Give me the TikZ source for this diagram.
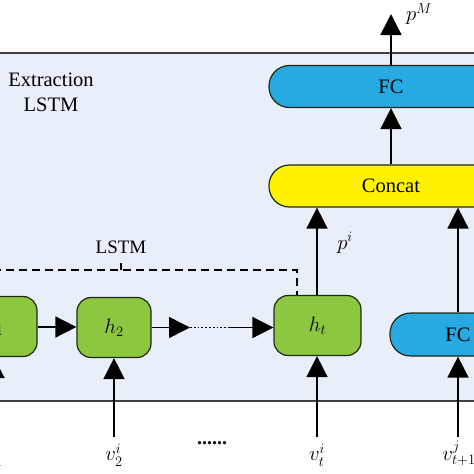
\documentclass[tikz,border=0pt]{standalone}
\usepackage{fontspec}
\setmainfont{Liberation Serif}
\usetikzlibrary{arrows.meta}
\definecolor{panelbg}{HTML}{E9EFF8}
\definecolor{hgreen}{HTML}{8DC63F}
\definecolor{fcblue}{HTML}{27AAE1}
\definecolor{cyellow}{HTML}{FFF200}
\definecolor{edge}{HTML}{1E2A14}
\begin{document}
\begin{tikzpicture}[x=1pt,y=-1pt,
  font=\fontsize{20.5}{24}\selectfont,
  mathlbl/.style={font=\fontsize{22}{26}\selectfont},
  hbox/.style={draw=edge, line width=1.2pt, fill=hgreen, rounded corners=14pt, inner sep=0pt, minimum height=60pt, mathlbl},
  pill/.style={draw=edge, line width=1.2pt, rounded corners=20.5pt, inner sep=0pt, minimum height=42pt},
  conn/.style={line width=1.6pt, -{Triangle[length=21pt,width=21pt]}},
  lbl/.style={inner sep=0pt}]
\useasboundingbox (0,0) rectangle (474,474);
% panel
\fill[panelbg] (-20,53) rectangle (494,401);
\draw[line width=1.2pt, black!75] (-20,53) -- (494,53);
\draw[line width=1.2pt, black!75] (-20,401) -- (494,401);
\node[lbl, align=center, font=\fontsize{20.5}{25}\selectfont] (title) at (51,92) {Extraction\\LSTM};
% boxes
\node[hbox, minimum width=86pt] (h1) at (-6,326.5) {$h_1$};
\node[hbox, minimum width=74pt] (h2) at (114,327.5) {$h_2$};
\node[hbox, minimum width=87pt] (ht) at (317.5,325.5) {$h_t$};
\node[pill, fill=fcblue, minimum width=244pt] (fctop) at (391,86.5) {FC};
\node[pill, fill=cyellow, minimum width=244pt] (concat) at (391,186) {Concat};
\node[pill, fill=fcblue, minimum width=136pt, minimum height=43pt] (fcr) at (458,334.5) {FC};
% recurrent chain
\coordinate (d1) at (190,327.5);
\coordinate (d2) at (230,327.5);
\draw[conn] (h1.east |- 0,327) -- (h2.west |- 0,327);
\draw[conn] (h2.east) -- (d1);
\draw[line width=1.8pt, dotted] (d1) -- (d2);
\draw[conn] (d2) -- (ht.west |- d2);
% dashed LSTM bracket
\coordinate (dl) at (-20,270);
\coordinate (dr) at (297,270);
\draw[line width=1.2pt, dash pattern=on 8pt off 5pt] (dl) -- (dr) -- (dr |- ht.north);
\coordinate (tk) at (121,270);
\draw[line width=1.2pt] (tk) -- ++(0,-7);
\node[lbl, font=\fontsize{19}{22}\selectfont] (lstm) at (121,247) {LSTM};
% inputs
\node[lbl, mathlbl] (v1) at (-6,455) {$v_1^i$};
\node[lbl, mathlbl] (v2) at (114,455) {$v_2^i$};
\node[lbl, mathlbl] (vt) at (317,455) {$v_t^i$};
\node[lbl, mathlbl] (vj) at (459,453) {$v_{t+1}^j$};
\node[lbl, font=\bfseries\fontsize{20}{24}\selectfont] (dots) at (212,443) {......};
\coordinate (a1) at (-6,437);
\coordinate (a2) at (114,437);
\coordinate (at) at (317,437);
\coordinate (aj) at (458,437);
\draw[conn] (a1) -- (a1 |- h1.south);
\draw[conn] (a2) -- (h2.south);
\draw[conn] (at) -- (at |- ht.south);
\draw[conn] (aj) -- (fcr.south);
% upward
\draw[conn] (at |- ht.north) -- (at |- concat.south);
\node[lbl, mathlbl] (pi) at (345,243) {$p^i$};
\draw[conn] (fcr.north) -- (fcr.north |- concat.south);
\draw[conn] (concat.north) -- (fctop.south);
\coordinate (pm) at (391,14);
\draw[conn] (fctop.north) -- (pm);
\node[lbl, mathlbl] (pM) at (419,14) {$p^M$};
\end{tikzpicture}
\end{document}
